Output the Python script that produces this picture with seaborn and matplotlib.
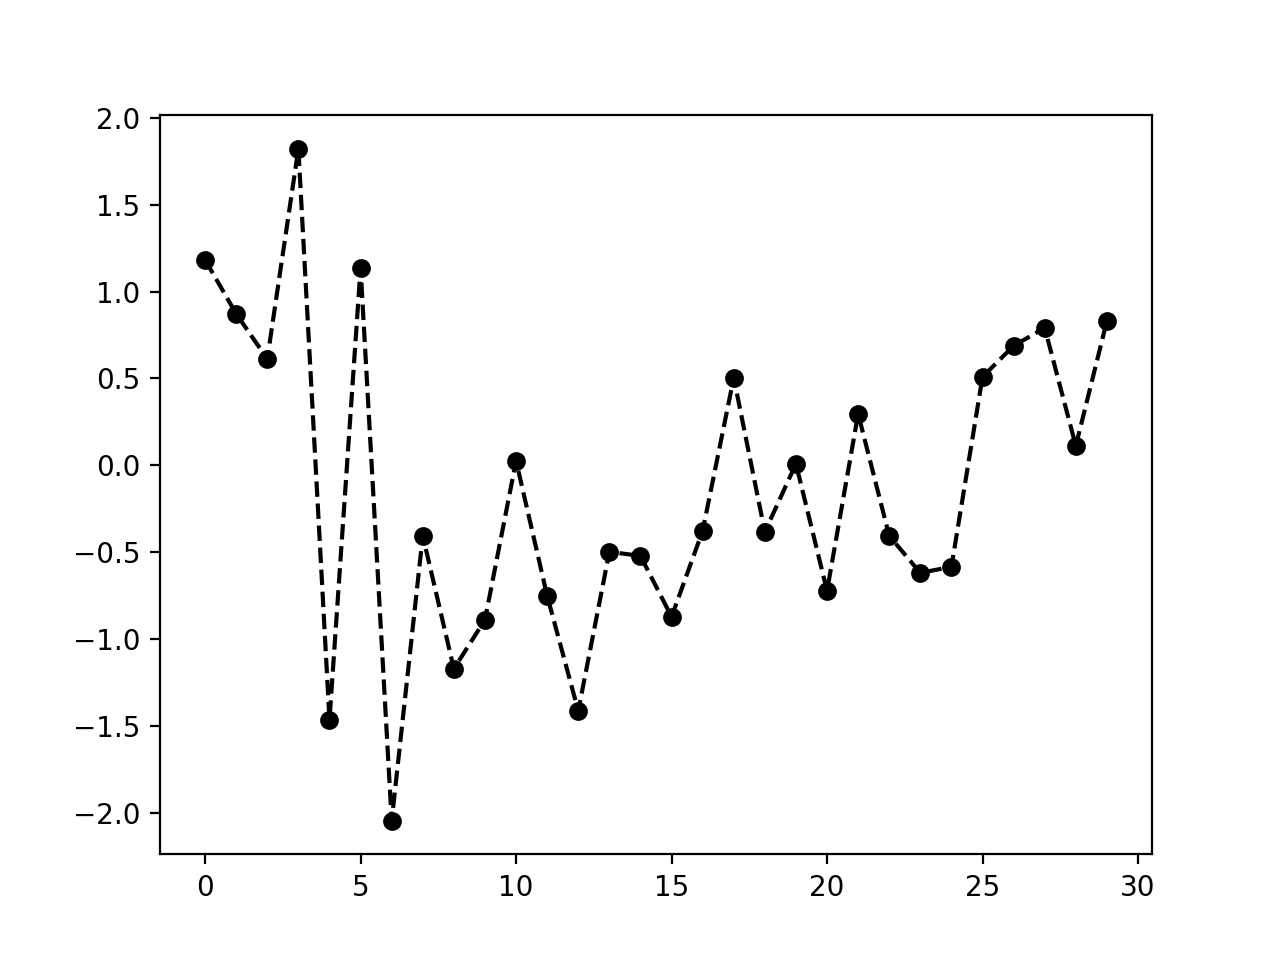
import matplotlib
matplotlib.use("Agg")
import matplotlib.pyplot as plt
import seaborn as sns
import numpy as np

x_values = list(range(30))
y_values = [1.183, 0.872, 0.613, 1.822, -1.465, 1.137, -2.046, -0.406, -1.171, -0.889,
            0.026, -0.751, -1.413, -0.498, -0.521, -0.872, -0.377, 0.504, -0.383, 0.009,
            -0.722, 0.296, -0.406, -0.619, -0.584, 0.509, 0.688, 0.791, 0.112, 0.832]

plt.rcParams.update(matplotlib.rcParamsDefault)
fig, ax = plt.subplots(figsize=(6.4, 4.8), dpi=200)
sns.lineplot(x=x_values, y=y_values, ax=ax, color="black", linestyle="--",
             marker="o", markersize=6, markeredgecolor="black", linewidth=1.5)
fig.savefig("out.png", dpi=200)
